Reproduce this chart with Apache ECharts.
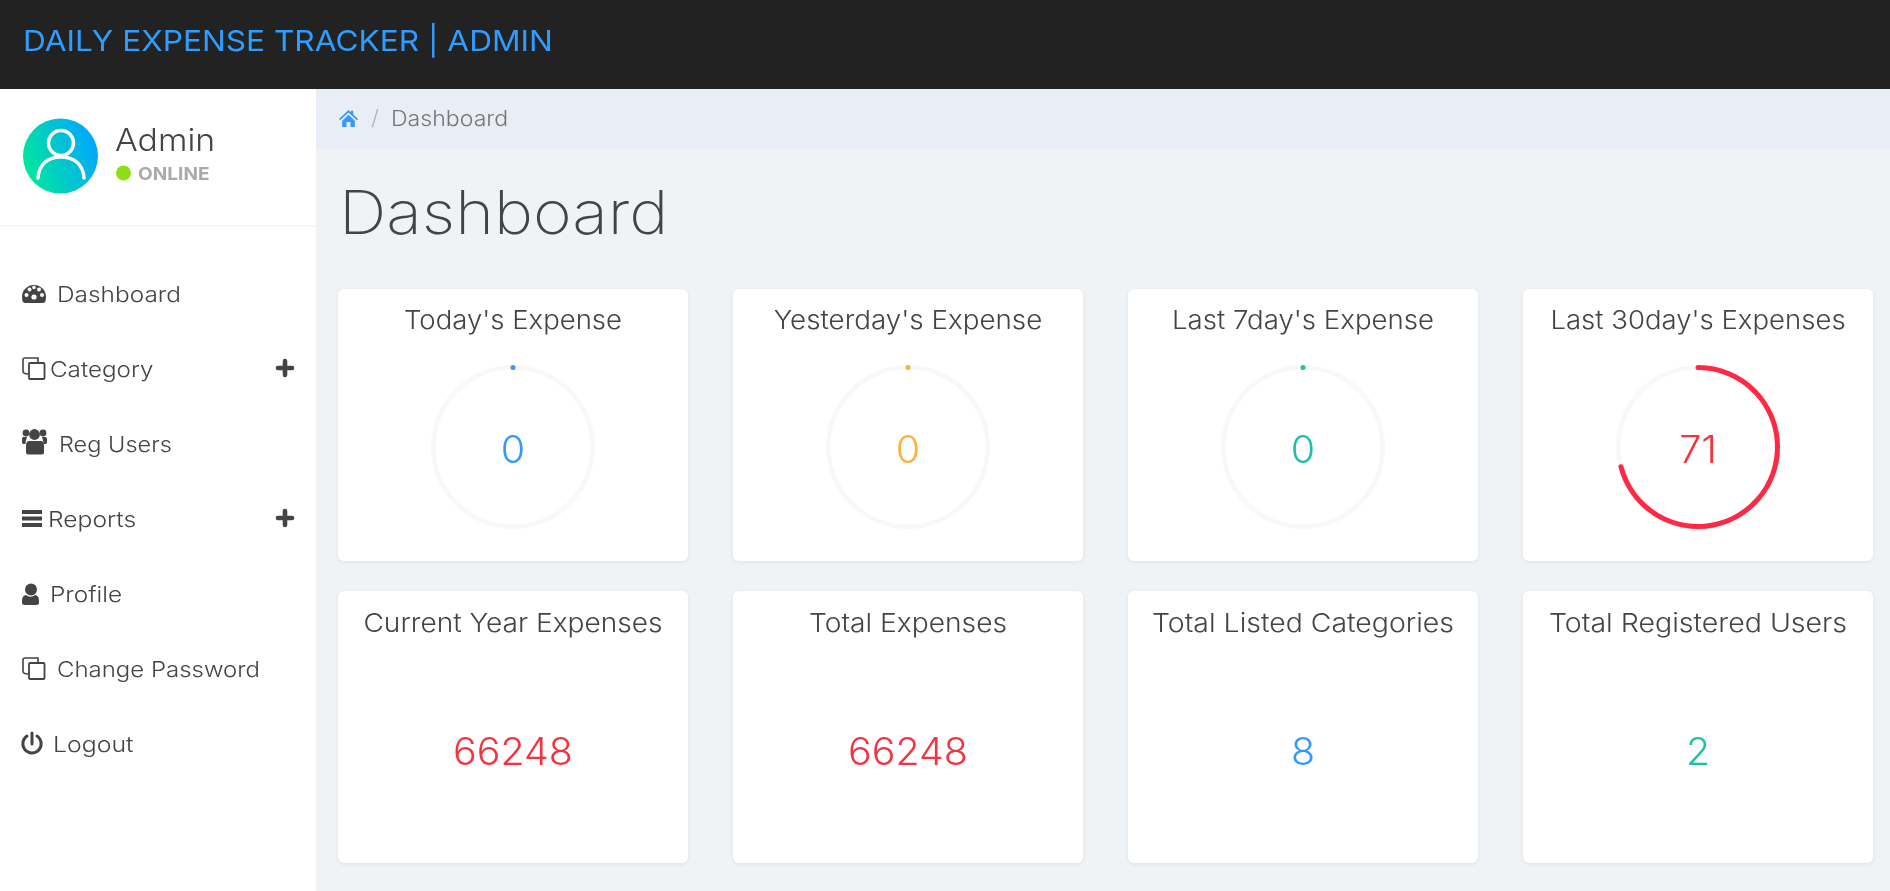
<!DOCTYPE html>
<html style="height: 100%">
<head>
    <meta charset="utf-8">
    <title>Daily Expense Tracker</title>
    <script src="https://cdn.jsdelivr.net/npm/echarts@6/dist/echarts.min.js"></script>
</head>
<body style="height: 100%; margin: 0; overflow: hidden">
<div id="main" style="width: 1890px; height: 891px"></div>
<script type="text/javascript">
    var appTitle = 'DAILY EXPENSE TRACKER | ADMIN';
    var userName = 'Admin';
    var userStatus = 'ONLINE';
    var pageName = 'Dashboard';
    var navLabels = ['Dashboard', 'Category', 'Reg Users', 'Reports', 'Profile', 'Change Password', 'Logout'];

    var ringTitles = ["Today's Expense", "Yesterday's Expense", "Last 7day's Expense", "Last 30day's Expenses"];
    var ringValues = [0, 0, 0, 71];
    var totalTitles = ['Current Year Expenses', 'Total Expenses', 'Total Listed Categories', 'Total Registered Users'];
    var totalValues = [66248, 66248, 8, 2];

    var ringColors = ['#3399ff', '#ffb03b', '#1fbfa8', '#ff2845'];
    var ringTextColors = ['#3399ff', '#ffb03b', '#1fbfa8', '#f5323f'];
    var totalColors = ['#f5323f', '#f5323f', '#3399ff', '#1fbfa8'];

    var FONT = 'Inter';
    var DARK = '#444444';
    var PAGE_BG = '#f0f3f6';
    var STRETCH = 1.09; // Inter is narrower than the font in the screenshot
    var cardLeft = [338, 733, 1128, 1523];
    var cardWidth = 350;
    // per text width fitting
    var navStretch = [1.11, 1.10, 1.07, 1.12, 1.11, 1.09, 1.13];
    var ringTitleStretch = [1.058, 1.068, 1.062, 1.059];
    var totalTitleStretch = [1.080, 1.084, 1.093, 1.097];

    var myChart = echarts.init(document.getElementById('main'));

    function box(x, y, w, h, fill, r, shadow) {
        var style = { fill: fill };
        if (shadow) {
            style.shadowBlur = 4;
            style.shadowOffsetY = 1;
            style.shadowColor = 'rgba(0,0,0,0.07)';
        }
        return { type: 'rect', z: 1, shape: { x: x, y: y, width: w, height: h, r: r || 0 }, style: style };
    }
    function label(str, x, y, size, color, weight, align, stretch) {
        return {
            type: 'text', x: x, y: y, z: 5, scaleX: stretch || STRETCH,
            style: {
                text: str, fill: color, fontFamily: FONT, fontSize: size, fontWeight: weight || 300,
                align: align || 'left', verticalAlign: 'middle'
            }
        };
    }

    // the graphic component has no plain svg path type, so each icon gets its own shape
    var shapeCount = 0;
    function pathShape(d) {
        var name = 'icon' + (shapeCount++);
        var Cls = echarts.graphic.extendPath(d, {});
        echarts.graphic.registerShape(name, Cls);
        return { name: name, rect: new Cls().getBoundingRect() };
    }
    function solid(d, x, y, w, h, fill) {
        var s = pathShape(d);
        var sx = w / s.rect.width;
        var sy = h / s.rect.height;
        return {
            type: s.name, z: 5, x: x - s.rect.x * sx, y: y - s.rect.y * sy, scaleX: sx, scaleY: sy,
            style: { fill: fill || DARK }
        };
    }
    function stroked(d, color, width) {
        return {
            type: pathShape(d).name, z: 5,
            style: { fill: 'none', stroke: color || DARK, lineWidth: width || 1.6, lineCap: 'round' }
        };
    }
    function dot(x, y, r, fill) {
        return { type: 'circle', z: 6, shape: { cx: x, cy: y, r: r }, style: { fill: fill } };
    }

    function filesIcon(y) {
        return [
            stroked('M38 ' + (y + 6) + ' V' + (y + 1) + ' H25 Q23 ' + (y + 1) + ' 23 ' + (y + 3) + ' V' + (y + 14) + ' Q23 ' + (y + 17) + ' 28 ' + (y + 17)),
            { type: 'rect', z: 5, shape: { x: 29, y: y + 6, width: 15.5, height: 16, r: 1 }, style: { fill: '#fff', stroke: DARK, lineWidth: 1.8 } }
        ];
    }

    function buildGraphic() {
        var g = [];
        // page frame
        g.push(box(0, 0, 1890, 891, PAGE_BG));
        g.push(box(0, 0, 1890, 89, '#222222'));
        g.push(box(0, 89, 316, 802, '#ffffff'));
        g.push(box(316, 89, 1574, 60, '#e9edf5'));
        g.push(box(0, 225.5, 316, 1, '#eeeef4'));
        g.push(label(appTitle, 23, 42, 29, '#2f9dff', 400));

        // user block
        g.push({
            type: 'circle', z: 2, shape: { cx: 60.5, cy: 156, r: 37.5 },
            style: { fill: new echarts.graphic.LinearGradient(0, 0.75, 1, 0.35, [
                { offset: 0, color: '#00ea98' }, { offset: 1, color: '#00a6ff' }
            ]) }
        });
        g.push({ type: 'circle', z: 5, shape: { cx: 61, cy: 143, r: 12.5 }, style: { fill: 'none', stroke: '#fff', lineWidth: 3.5 } });
        g.push(stroked('M38 178 C39 164 48 157 61 157 C74 157 83 164 84 178', '#fff', 3.5));
        g.push(label(userName, 115, 141.5, 31, DARK, 300));
        g.push(dot(123.5, 173, 7.5, '#8ddf14'));
        g.push(label(userStatus, 138, 174.5, 17.5, '#aaaaaa', 700));

        // breadcrumb
        g.push(solid('M12 2 L15 4.6 V3 H18 V7.3 L24 12.5 L22.6 14 L12 5 L1.4 14 L0 12.5 Z M4 14.5 L12 7.6 L20 14.5 V22 H14.5 V16 H9.5 V22 H4 Z', 339, 110, 19, 17, '#3399ff'));
        g.push(label('/', 371, 119, 21, '#b5b5b5', 300, 'left'));
        g.push(label(pageName, 391, 119.5, 21.2, '#777777', 300));
        g.push(label(pageName, 339, 215.5, 60.6, DARK, 200));

        // sidebar nav
        var navX = [57, 50, 59, 48, 50, 57, 53];
        var i;
        for (i = 0; i < navLabels.length; i++) {
            g.push(label(navLabels[i], navX[i], 295.5 + i * 75, 22, DARK, 300, 'left', navStretch[i]));
        }
        // nav icons
        g.push(solid('M0 12 A12 11 0 0 1 24 12 Q24 15 23 17 Q22 18 21 18 H3 Q2 18 1 17 Q0 15 0 12 Z', 22, 285, 24, 18));
        g.push(dot(26.5, 295, 2, '#fff'), dot(29.5, 289.5, 2, '#fff'), dot(34, 287.5, 1.8, '#fff'),
            dot(39, 289.5, 2, '#fff'), dot(42, 295, 2, '#fff'), dot(34, 297, 2.6, '#fff'));
        g = g.concat(filesIcon(357));
        g = g.concat(filesIcon(657));
        // users
        g.push(dot(34.5, 434.5, 5.4, DARK), dot(26, 433, 3.4, DARK), dot(43, 433, 3.4, DARK));
        g.push(solid('M4 0 H20 Q24 0 24 5 V12 Q24 14 21 14 H3 Q0 14 0 12 V5 Q0 0 4 0 Z', 26, 441, 18, 13.5));
        g.push(solid('M2 0 H7 L5 6 V8 H2 Q0 8 0 6 V2 Q0 0 2 0 Z', 22, 437, 5, 7));
        g.push(solid('M0 0 H5 Q7 0 7 2 V6 Q7 8 5 8 H2 V6 Z', 42, 437, 5, 7));
        // bars
        [510, 516.5, 523].forEach(function (y) {
            var bar = box(22, y, 20, 4, DARK);
            bar.z = 5;
            g.push(bar);
        });
        // user
        g.push(dot(31, 589.5, 6, DARK));
        g.push(solid('M4 0 Q9 4 14 0 Q18 1 18 7 V10 Q18 12 15 12 H3 Q0 12 0 10 V7 Q0 1 4 0 Z', 22, 595, 17, 10));
        // power
        g.push(stroked('M27 736 A9.2 9.2 0 1 0 37 736', DARK, 3));
        g.push(stroked('M32 733 V744', DARK, 3));
        // plus signs
        [368, 518].forEach(function (y) {
            g.push(stroked('M278 ' + y + ' H292 M285 ' + (y - 7) + ' V' + (y + 7), DARK, 4.6));
        });

        // cards
        for (i = 0; i < 4; i++) {
            var cx = cardLeft[i] + cardWidth / 2;
            g.push(box(cardLeft[i], 289, cardWidth, 272, '#ffffff', 6, true));
            g.push(box(cardLeft[i], 591, cardWidth, 272, '#ffffff', 6, true));
            g.push(label(ringTitles[i], cx, 321.5, 26, DARK, 300, 'center', ringTitleStretch[i]));
            g.push(label(totalTitles[i], cx, 624, 26, DARK, 300, 'center', totalTitleStretch[i]));
            g.push(label(String(ringValues[i]), cx, 451.5, 38, ringTextColors[i], 300, 'center', 1.04));
            g.push(label(String(totalValues[i]), cx, 753.5, 38, totalColors[i], 300, 'center', 1.037));
        }
        return g;
    }

    function ringSeries() {
        return ringValues.map(function (v, i) {
            return {
                type: 'gauge',
                center: [cardLeft[i] + cardWidth / 2, 447],
                radius: 82,
                startAngle: 90,
                endAngle: -270,
                min: 0,
                max: 100,
                silent: true,
                animation: false,
                axisLine: { roundCap: false, lineStyle: { width: 4.5, color: [[1, '#f8f8f8']] } },
                progress: { show: true, width: 5, roundCap: true, itemStyle: { color: ringColors[i] } },
                pointer: { show: false },
                axisTick: { show: false },
                splitLine: { show: false },
                axisLabel: { show: false },
                title: { show: false },
                detail: { show: false },
                data: [{ value: v }]
            };
        });
    }

    myChart.setOption({
        animation: false,
        backgroundColor: PAGE_BG,
        graphic: { elements: buildGraphic() },
        series: ringSeries()
    });
</script>
</body>
</html>
